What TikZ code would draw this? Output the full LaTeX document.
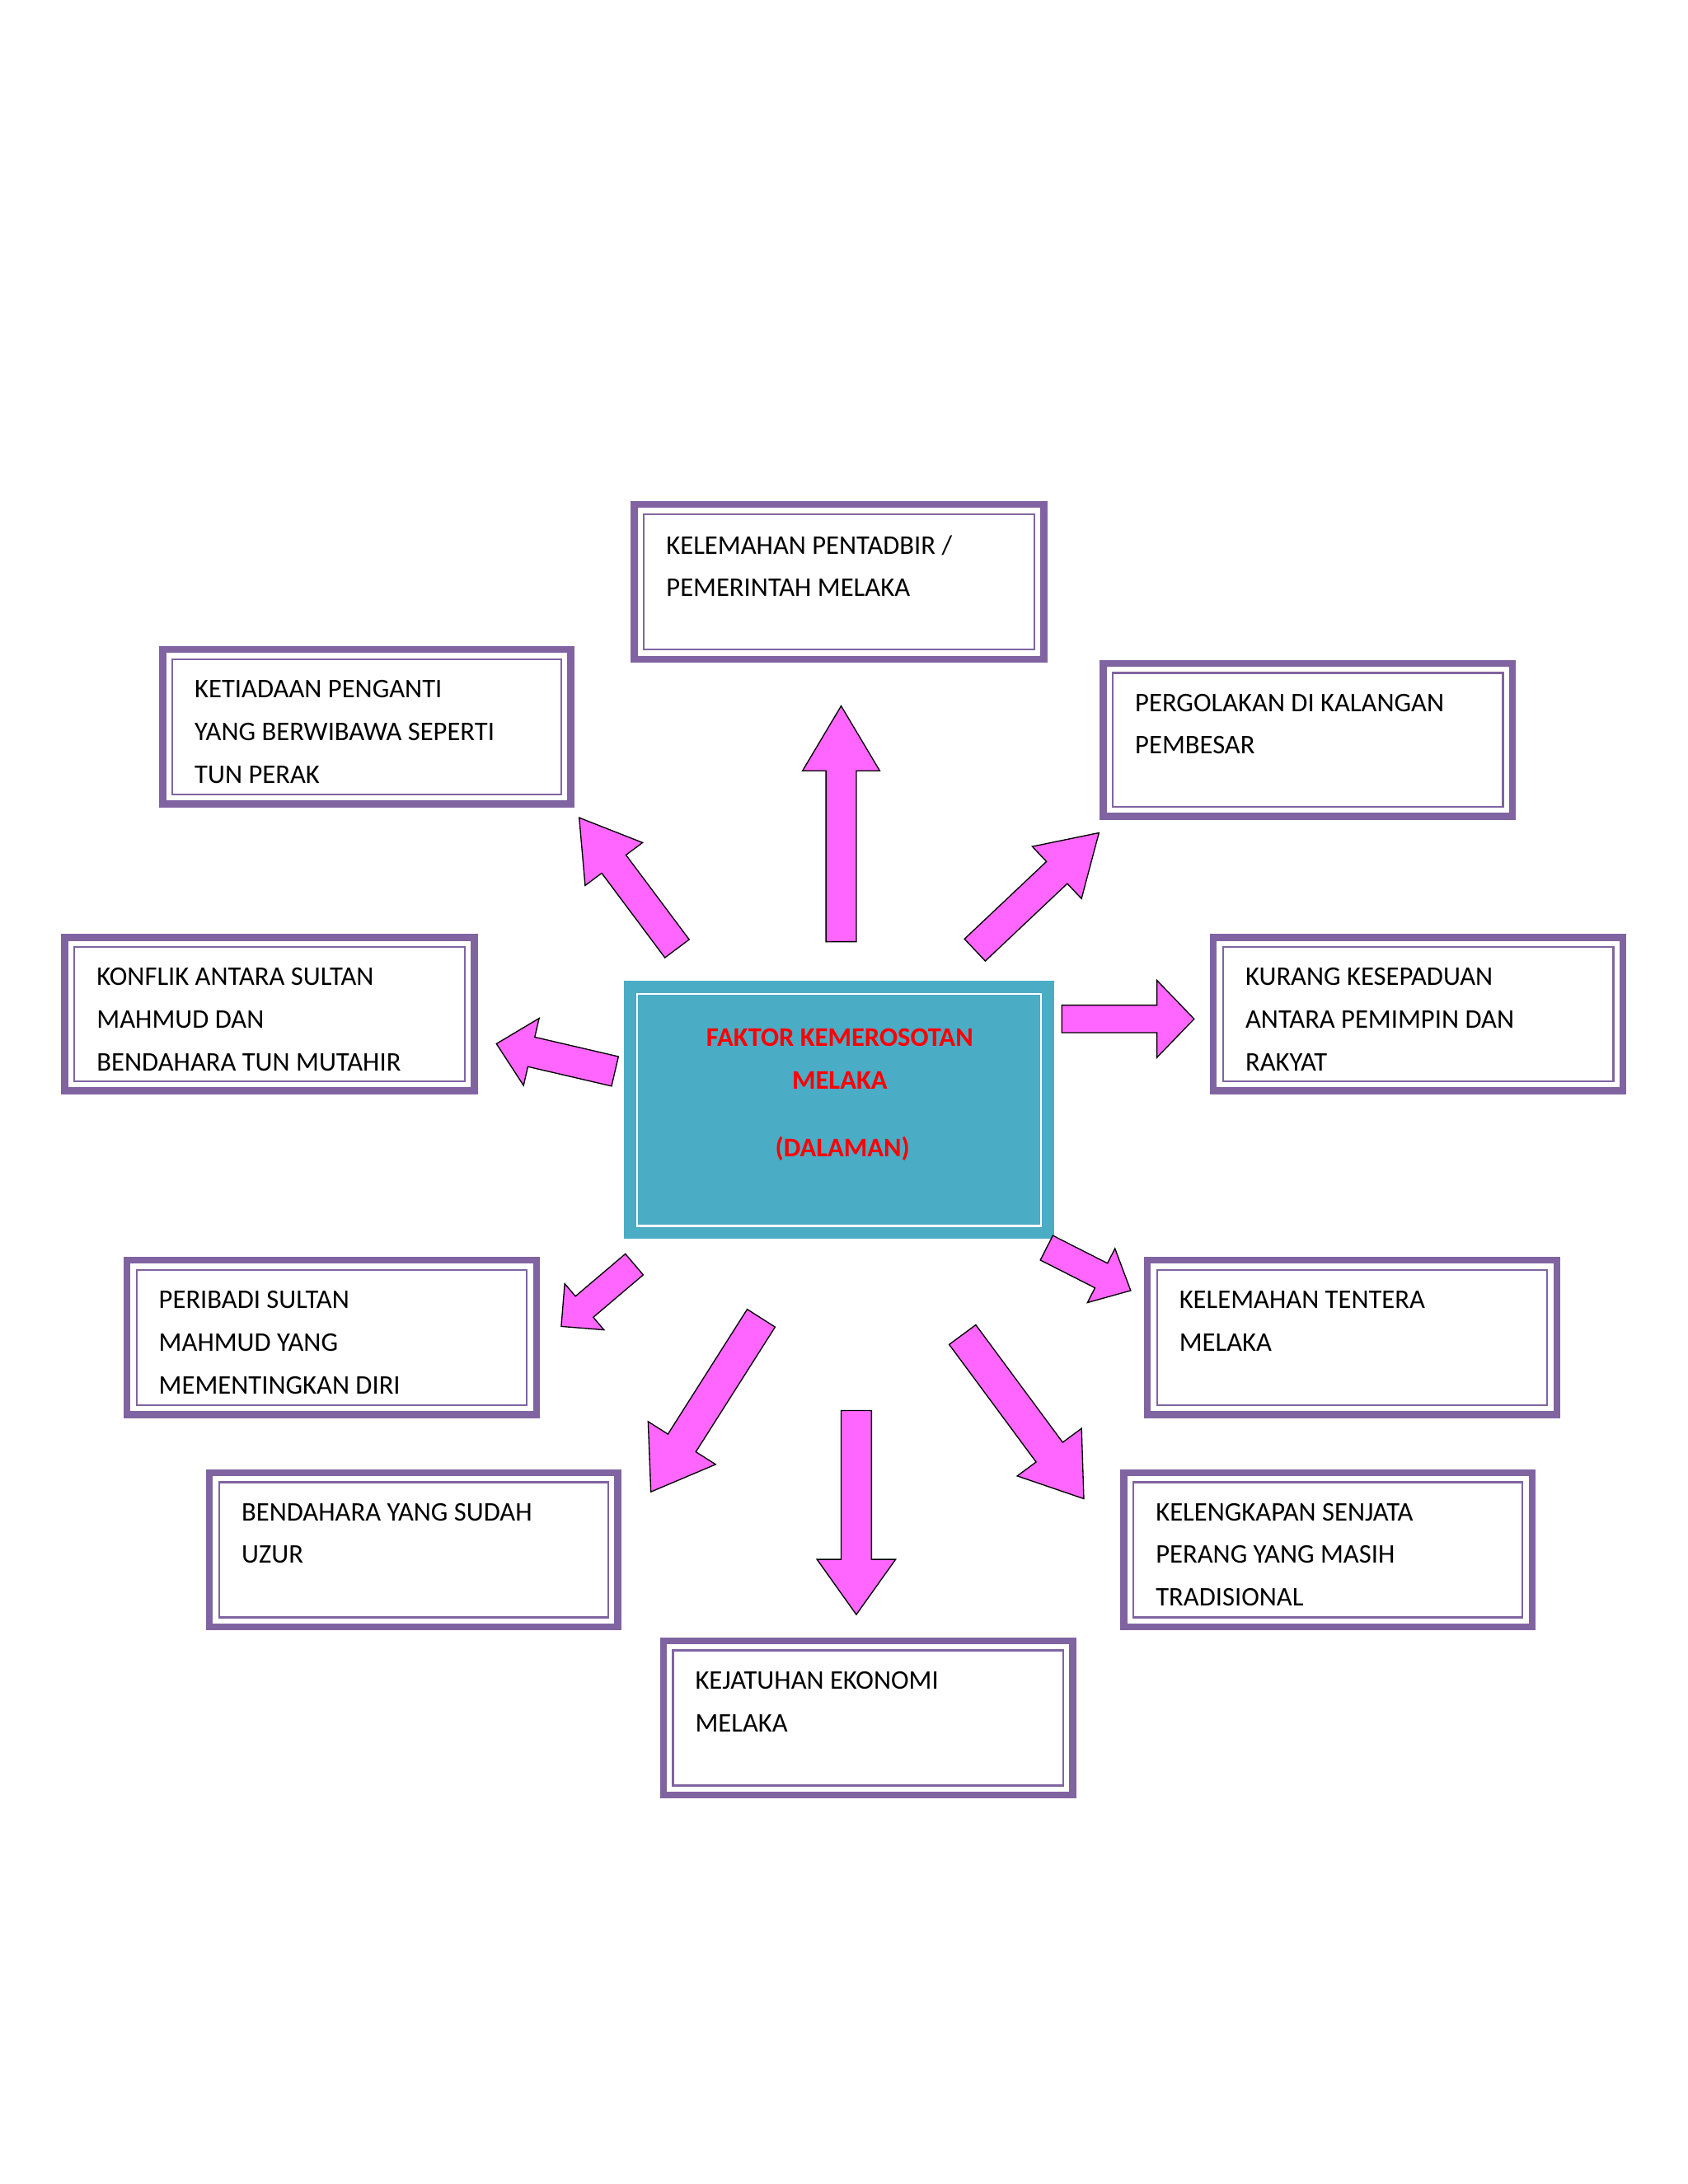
\documentclass[tikz,border=0pt]{standalone}
\usepackage{fontspec}
\setmainfont{Carlito}
\usetikzlibrary{calc}
\definecolor{pur}{HTML}{8064A2}
\definecolor{teal}{HTML}{4BACC6}
\definecolor{mag}{HTML}{FF66FF}
\tikzset{
  outer/.style={draw=pur,line width=5pt,fill=white},
  inner/.style={draw=pur,line width=1.3pt},
  txt/.style={anchor=north west,inner sep=0pt,align=left,font=\fontsize{19.5}{31}\selectfont},
  arr/.style={draw=black,line width=0.8pt,fill=mag,line join=miter}
}
% box: name, x1,y1,x2,y2, text
\newcommand\mybox[6]{%
  \draw[outer] (#2,#3) rectangle (#4,#5);
  \draw[inner] ($(#2,#3)+(7,7)$) rectangle ($(#4,#5)+(-7,-7)$);
  \node[txt] (#1) at ($(#2,#3)+(23,22)$) {#6};}
% block arrow: tail, tip, shaft width, head width, head length
\newcommand\barrow[5]{%
  \draw[arr] let \p1=(#1), \p2=(#2), \n1={atan2(\y2-\y1,\x2-\x1)}, \n2={veclen(\x2-\x1,\y2-\y1)} in
   [shift={(\p1)},rotate=\n1]
   (0,-#3/2) -- ({\n2-#5},-#3/2) -- ({\n2-#5},-#4/2) -- (\n2,0) -- ({\n2-#5},#4/2) -- ({\n2-#5},#3/2) -- (0,#3/2) -- cycle;}
\begin{document}
\begin{tikzpicture}[x=1pt,y=-1pt]
\useasboundingbox (0,0) rectangle (1224,1584);
\fill[white] (0,0) rectangle (1224,1584);
\mybox{b1}{460}{366}{757}{478}{KELEMAHAN PENTADBIR /\\PEMERINTAH MELAKA}
\mybox{b2}{118}{471}{414}{583}{KETIADAAN PENGANTI\\YANG BERWIBAWA SEPERTI\\TUN PERAK}
\mybox{b3}{800}{481}{1097}{592}{PERGOLAKAN DI KALANGAN\\PEMBESAR}
\mybox{b4}{47}{680}{344}{791}{KONFLIK ANTARA SULTAN\\MAHMUD DAN\\BENDAHARA TUN MUTAHIR}
\mybox{b5}{880}{680}{1177}{791}{KURANG KESEPADUAN\\ANTARA PEMIMPIN DAN\\RAKYAT}
\mybox{b7}{92}{914}{389}{1026}{PERIBADI SULTAN\\MAHMUD YANG\\MEMENTINGKAN DIRI}
\mybox{b8}{832}{914}{1129}{1026}{KELEMAHAN TENTERA\\MELAKA}
\mybox{b9}{152}{1068}{448}{1180}{BENDAHARA YANG SUDAH\\UZUR}
\mybox{b10}{815}{1068}{1111}{1180}{KELENGKAPAN SENJATA\\PERANG YANG MASIH\\TRADISIONAL}
\mybox{b11}{481}{1190}{778}{1302}{KEJATUHAN EKONOMI\\MELAKA}
% center
\draw[draw=teal,line width=5pt,fill=teal] (455,714) rectangle (762,896);
\draw[white,line width=1.5pt] (462,721) rectangle (755,889);
\node[inner sep=0pt,align=center,text=red,font=\bfseries\fontsize{19.5}{31}\selectfont] (c) at (609,768) {FAKTOR KEMEROSOTAN\\MELAKA};
\node[inner sep=0pt,text=red,font=\bfseries\fontsize{19.5}{31}\selectfont] (c2) at (611,833) {(DALAMAN)};
% arrows
\barrow{610,683}{610,512}{22}{56}{47}
\barrow{491,688}{420,593}{22}{52}{42}
\barrow{707,689}{797,604}{22}{52}{42}
\barrow{446,777}{360,757}{22}{50}{26}
\barrow{770,739}{866,739}{20}{56}{27}
\barrow{460,917}{407,962}{20}{44}{22}
\barrow{759,905}{820,936}{20}{44}{24}
\barrow{552,956}{472,1082}{24}{58}{42}
\barrow{621,1023}{621,1171}{22}{57}{40}
\barrow{698,968}{786,1087}{24}{58}{42}
\end{tikzpicture}
\end{document}
